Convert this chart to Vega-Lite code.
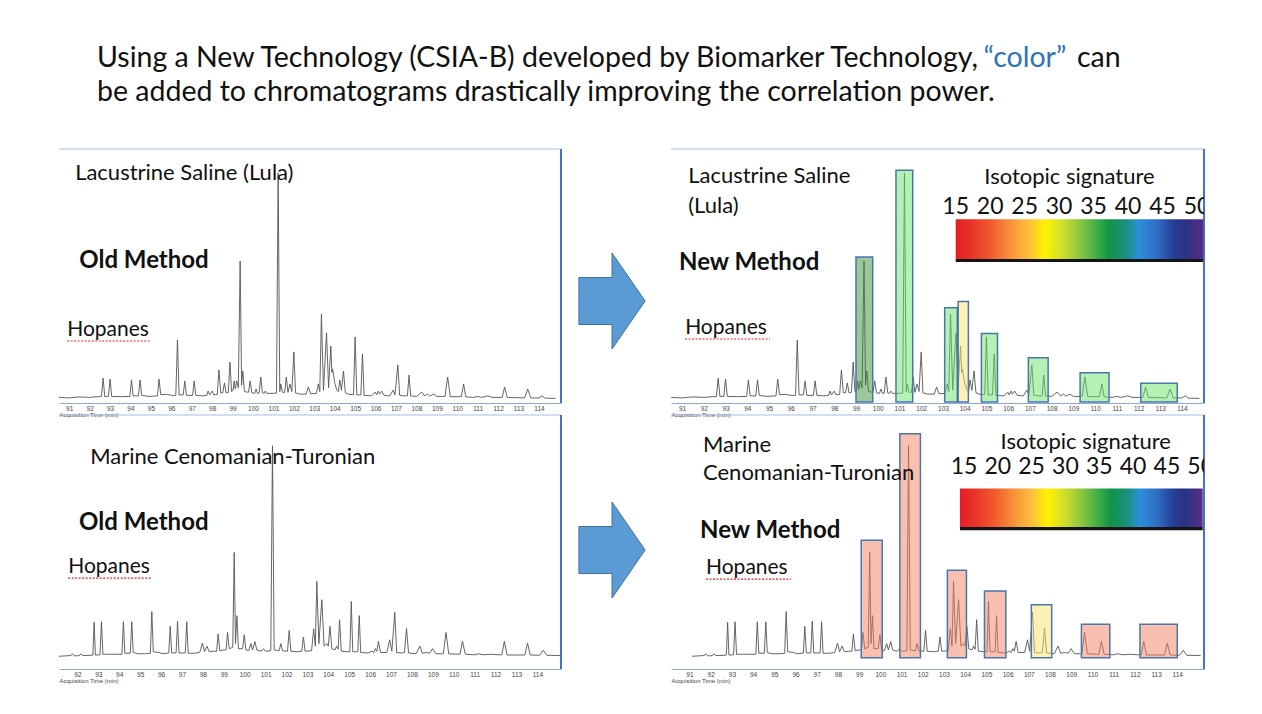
{
  "$schema": "https://vega.github.io/schema/vega-lite/v6.json",
  "padding": {"top": 10, "left": 57, "right": 0, "bottom": 0},
  "background": "white",
  "config": {"font": "Lato", "view": {"stroke": null}, "axis": {"grid": false, "labelOverlap": false, "labelSeparation": 0}},
  "datasets": {
    "lula": [
      {"t":90.5,"v":2.2},{"t":91.0,"v":2.0},{"t":91.5,"v":2.4},{"t":92.0,"v":2.2},{"t":92.4,"v":2.5},
      {"t":92.58,"v":2.5},{"t":92.66,"v":9.8},{"t":92.74,"v":2.6},
      {"t":92.92,"v":2.6},{"t":93.0,"v":9.4},{"t":93.08,"v":2.6},
      {"t":93.5,"v":2.5},
      {"t":93.97,"v":2.6},{"t":94.05,"v":9.1},{"t":94.13,"v":2.8},
      {"t":94.39,"v":2.8},{"t":94.47,"v":9.1},{"t":94.55,"v":3.0},
      {"t":94.9,"v":2.6},
      {"t":95.32,"v":2.8},{"t":95.4,"v":9.4},{"t":95.48,"v":3.3},
      {"t":95.8,"v":3.4},{"t":96.0,"v":3.0},
      {"t":96.22,"v":3.0},{"t":96.3,"v":24.8},{"t":96.38,"v":3.2},
      {"t":96.58,"v":3.2},{"t":96.66,"v":8.7},{"t":96.74,"v":3.0},
      {"t":97.04,"v":3.0},{"t":97.12,"v":8.7},{"t":97.2,"v":3.0},
      {"t":97.5,"v":2.8},
      {"t":97.74,"v":3.0},{"t":97.8,"v":4.7},{"t":97.88,"v":3.2},{"t":98.0,"v":4.7},{"t":98.08,"v":3.2},
      {"t":98.25,"v":3.4},{"t":98.33,"v":13},{"t":98.42,"v":4.0},
      {"t":98.52,"v":4.0},{"t":98.6,"v":7.9},{"t":98.68,"v":4.0},
      {"t":98.79,"v":4.2},{"t":98.87,"v":16.1},{"t":98.95,"v":4.5},
      {"t":99.02,"v":5.0},{"t":99.08,"v":8.7},{"t":99.13,"v":5.5},{"t":99.2,"v":8.7},{"t":99.28,"v":6},
      {"t":99.37,"v":55.9},{"t":99.44,"v":7},{"t":99.5,"v":12.6},{"t":99.58,"v":4.5},
      {"t":99.78,"v":4.2},{"t":99.86,"v":8.7},{"t":99.94,"v":4.0},
      {"t":100.08,"v":3.8},{"t":100.15,"v":5.5},{"t":100.22,"v":3.8},
      {"t":100.3,"v":3.9},{"t":100.38,"v":10.2},{"t":100.46,"v":4.0},
      {"t":100.55,"v":3.8},{"t":100.6,"v":4.7},{"t":100.68,"v":3.8},
      {"t":101.0,"v":3.8},{"t":101.15,"v":3.9},{"t":101.23,"v":90.6},{"t":101.31,"v":4.5},{"t":101.36,"v":7.5},{"t":101.44,"v":4.2},
      {"t":101.55,"v":4.2},{"t":101.63,"v":10.2},{"t":101.71,"v":4.2},{"t":101.81,"v":7.5},{"t":101.9,"v":4.5},
      {"t":102.0,"v":20.1},{"t":102.08,"v":4.0},
      {"t":102.3,"v":3.5},{"t":102.6,"v":3.5},{"t":102.71,"v":6.3},{"t":102.82,"v":3.6},
      {"t":103.1,"v":3.8},{"t":103.2,"v":7.5},{"t":103.27,"v":4.5},
      {"t":103.35,"v":35},{"t":103.45,"v":5},{"t":103.6,"v":27.6},{"t":103.7,"v":6},{"t":103.81,"v":22.4},{"t":103.86,"v":12},{"t":103.9,"v":13.4},{"t":104.0,"v":8},{"t":104.1,"v":5},
      {"t":104.18,"v":4.5},{"t":104.25,"v":9.1},{"t":104.33,"v":5},{"t":104.43,"v":12.6},{"t":104.52,"v":4.0},
      {"t":104.7,"v":3.4},{"t":104.92,"v":3.3},{"t":105.0,"v":26},{"t":105.08,"v":3.2},
      {"t":105.28,"v":3.2},{"t":105.36,"v":19.3},{"t":105.44,"v":3.0},
      {"t":105.8,"v":2.8},{"t":105.98,"v":4.3},{"t":106.05,"v":3.2},{"t":106.13,"v":4.7},{"t":106.2,"v":3.5},{"t":106.3,"v":4.7},{"t":106.42,"v":3.0},
      {"t":106.7,"v":2.8},{"t":106.86,"v":5.1},{"t":106.95,"v":3.2},{"t":107.09,"v":15},{"t":107.18,"v":3.0},
      {"t":107.4,"v":2.8},{"t":107.56,"v":2.8},{"t":107.64,"v":11},{"t":107.72,"v":2.8},
      {"t":108.0,"v":2.6},{"t":108.26,"v":4.3},{"t":108.4,"v":2.8},{"t":108.55,"v":3.5},{"t":108.65,"v":2.7},{"t":108.85,"v":3.5},{"t":109.0,"v":2.6},
      {"t":109.4,"v":2.6},{"t":109.53,"v":10.2},{"t":109.66,"v":2.5},
      {"t":110.2,"v":2.5},{"t":110.31,"v":7.5},{"t":110.42,"v":2.4},
      {"t":110.8,"v":2.2},{"t":111.0,"v":2.6},{"t":111.2,"v":2.2},{"t":111.5,"v":2.8},{"t":111.7,"v":2.2},
      {"t":112.2,"v":2.2},{"t":112.32,"v":6.3},{"t":112.45,"v":2.2},
      {"t":113.3,"v":2.0},{"t":113.45,"v":5.5},{"t":113.6,"v":2.0},
      {"t":114.0,"v":2.0},{"t":114.15,"v":2.8},{"t":114.3,"v":1.9},{"t":114.8,"v":1.8}
    ],
    "marine": [
      {"t":91.12,"v":5.0},{"t":91.5,"v":5.2},{"t":91.7,"v":5.3},{"t":91.76,"v":6.0},{"t":91.85,"v":5.2},{"t":92.0,"v":5.2},{"t":92.1,"v":5.3},{"t":92.16,"v":6.0},{"t":92.25,"v":5.3},{"t":92.7,"v":5.4},
      {"t":92.74,"v":5.5},{"t":92.8,"v":18.4},{"t":92.86,"v":5.5},
      {"t":93.08,"v":5.6},{"t":93.15,"v":18.6},{"t":93.22,"v":5.8},
      {"t":93.5,"v":5.8},{"t":93.8,"v":5.8},
      {"t":94.13,"v":5.8},{"t":94.2,"v":18.6},{"t":94.27,"v":6.2},
      {"t":94.53,"v":6.2},{"t":94.6,"v":18.6},{"t":94.67,"v":6.5},
      {"t":94.9,"v":6.0},{"t":95.2,"v":6.0},
      {"t":95.49,"v":6.2},{"t":95.56,"v":22.6},{"t":95.63,"v":6.8},
      {"t":95.9,"v":6.5},{"t":96.1,"v":6.0},
      {"t":96.37,"v":6.3},{"t":96.44,"v":16.8},{"t":96.51,"v":6.3},
      {"t":96.72,"v":6.3},{"t":96.79,"v":18.8},{"t":96.86,"v":6.3},
      {"t":97.16,"v":6.3},{"t":97.23,"v":18.6},{"t":97.3,"v":6.2},
      {"t":97.6,"v":6.2},{"t":97.85,"v":6.5},{"t":97.98,"v":10.2},{"t":98.08,"v":6.8},{"t":98.2,"v":9},{"t":98.3,"v":6.8},
      {"t":98.5,"v":7},{"t":98.66,"v":7},{"t":98.73,"v":13.8},{"t":98.81,"v":7.2},
      {"t":99.0,"v":7.5},{"t":99.11,"v":7.5},{"t":99.18,"v":14.4},{"t":99.26,"v":8},
      {"t":99.43,"v":8.5},{"t":99.5,"v":45.9},{"t":99.56,"v":10},{"t":99.63,"v":21},{"t":99.7,"v":8},
      {"t":99.9,"v":8},{"t":99.98,"v":13.5},{"t":100.06,"v":7.5},
      {"t":100.2,"v":7.3},{"t":100.3,"v":10},{"t":100.38,"v":7.5},{"t":100.49,"v":10.8},{"t":100.58,"v":7.5},
      {"t":100.8,"v":7.0},{"t":100.9,"v":8},{"t":101.0,"v":7.0},
      {"t":101.25,"v":7.2},{"t":101.33,"v":87.9},{"t":101.41,"v":7.5},
      {"t":101.65,"v":7.2},{"t":101.73,"v":10},{"t":101.81,"v":7.2},
      {"t":102.05,"v":7},{"t":102.13,"v":15.2},{"t":102.21,"v":7},
      {"t":102.5,"v":6.8},{"t":102.73,"v":7},{"t":102.81,"v":12.6},{"t":102.89,"v":7},
      {"t":103.2,"v":7.2},{"t":103.3,"v":15.8},{"t":103.38,"v":9},{"t":103.45,"v":34.5},{"t":103.55,"v":10},{"t":103.69,"v":27.3},{"t":103.8,"v":9},{"t":103.93,"v":10},{"t":104.0,"v":9},{"t":104.08,"v":16.8},{"t":104.17,"v":8},
      {"t":104.32,"v":7.5},{"t":104.4,"v":9},{"t":104.47,"v":7.8},{"t":104.54,"v":19.4},{"t":104.62,"v":7},
      {"t":104.9,"v":6.8},{"t":105.03,"v":6.8},{"t":105.1,"v":26.6},{"t":105.17,"v":6.8},
      {"t":105.41,"v":6.8},{"t":105.48,"v":21},{"t":105.55,"v":6.5},
      {"t":105.9,"v":6.3},{"t":106.09,"v":7},{"t":106.17,"v":6.5},{"t":106.25,"v":8},{"t":106.32,"v":7},{"t":106.4,"v":10.9},{"t":106.5,"v":6.5},
      {"t":106.8,"v":6.5},{"t":106.94,"v":11.5},{"t":107.04,"v":7},{"t":107.18,"v":22.3},{"t":107.27,"v":6.5},
      {"t":107.5,"v":6.3},{"t":107.64,"v":6.5},{"t":107.74,"v":16},{"t":107.84,"v":6.3},
      {"t":108.2,"v":6.0},{"t":108.38,"v":9},{"t":108.5,"v":6.2},{"t":108.72,"v":6.5},{"t":108.85,"v":6.2},{"t":108.99,"v":8},{"t":109.15,"v":6},
      {"t":109.5,"v":6.0},{"t":109.63,"v":14.4},{"t":109.76,"v":6},
      {"t":110.3,"v":5.8},{"t":110.42,"v":11},{"t":110.55,"v":5.8},
      {"t":111.0,"v":5.6},{"t":111.2,"v":6},{"t":111.4,"v":5.6},{"t":111.8,"v":5.8},{"t":112.1,"v":5.6},
      {"t":112.3,"v":5.6},{"t":112.42,"v":10.9},{"t":112.55,"v":5.5},
      {"t":113.4,"v":5.5},{"t":113.53,"v":10.2},{"t":113.66,"v":5.5},
      {"t":114.1,"v":5.4},{"t":114.28,"v":7.4},{"t":114.45,"v":5.4},{"t":115.1,"v":5.3}
    ],
    "lulaBoxes": [
      {"t0":99.0,"t1":99.77,"top":57.5,"d13C":37},
      {"t0":100.84,"t1":101.61,"top":91.6,"d13C":33},
      {"t0":103.08,"t1":103.66,"top":37.5,"d13C":33},
      {"t0":103.7,"t1":104.17,"top":40.0,"d13C":28},
      {"t0":104.77,"t1":105.51,"top":27.4,"d13C":33},
      {"t0":106.93,"t1":107.84,"top":17.8,"d13C":33},
      {"t0":109.31,"t1":110.64,"top":11.9,"d13C":33},
      {"t0":112.1,"t1":113.78,"top":7.8,"d13C":33}
    ],
    "marineBoxes": [
      {"t0":99.1,"t1":100.09,"top":50.7,"d13C":18},
      {"t0":100.92,"t1":101.89,"top":92.6,"d13C":18},
      {"t0":103.16,"t1":104.06,"top":38.9,"d13C":18},
      {"t0":104.91,"t1":105.92,"top":30.7,"d13C":18},
      {"t0":107.12,"t1":108.08,"top":25.3,"d13C":28},
      {"t0":109.48,"t1":110.82,"top":17.6,"d13C":18},
      {"t0":112.24,"t1":114.0,"top":17.6,"d13C":18}
    ],
    "isoTicks": [{"d13C":15},{"d13C":20},{"d13C":25},{"d13C":30},{"d13C":35},{"d13C":40},{"d13C":45},{"d13C":50}],
    "arrows": [{"sample":"Lacustrine Saline (Lula)"},{"sample":"Marine Cenomanian-Turonian"}]
  },
  "spacing": 0,
  "vconcat": [
    {
      "width": 1145, "height": 138,
      "layer": [
        {"data": {"values": [{}]},
         "mark": {"type": "text", "text": "Using a New Technology (CSIA-B) developed by Biomarker Technology,", "fontSize": 28.5, "align": "left", "baseline": "alphabetic", "color": "#111111"},
         "encoding": {"x": {"datum": 3.32, "scale": {"domain": [0, 100], "nice": false, "zero": false}, "axis": null},
                      "y": {"datum": 58.7, "scale": {"domain": [0, 100], "nice": false, "zero": false}, "axis": null}}},
        {"data": {"values": [{}]},
         "mark": {"type": "text", "text": "“color”", "fontSize": 28.5, "align": "left", "baseline": "alphabetic", "color": "#2e75b6"},
         "encoding": {"x": {"datum": 80.75, "axis": null}, "y": {"datum": 58.7, "axis": null}}},
        {"data": {"values": [{}]},
         "mark": {"type": "text", "text": "can", "fontSize": 28.5, "align": "left", "baseline": "alphabetic", "color": "#111111"},
         "encoding": {"x": {"datum": 88.9, "axis": null}, "y": {"datum": 58.7, "axis": null}}},
        {"data": {"values": [{}]},
         "mark": {"type": "text", "text": "be added to chromatograms drastically improving the correlation power.", "fontSize": 28.5, "align": "left", "baseline": "alphabetic", "color": "#111111"},
         "encoding": {"x": {"datum": 3.32, "axis": null}, "y": {"datum": 34.1, "axis": null}}}
      ]
    },
    {
      "spacing": 0,
      "hconcat": [
        {
          "bounds": "flush",
          "spacing": 12,
          "vconcat": [
            {
              "width": 502, "height": 254,
              "layer": [
                {"data": {"name": "lula"},
                 "mark": {"type": "line", "color": "#555555", "strokeWidth": 0.9},
                 "encoding": {
                   "x": {"field": "t", "type": "quantitative", "scale": {"domain": [90.5, 115.08], "nice": false, "zero": false},
                         "axis": {"values": [91,92,93,94,95,96,97,98,99,100,101,102,103,104,105,106,107,108,109,110,111,112,113,114], "tickCount": 40, "format": "d", "ticks": false, "labelFontSize": 6.5, "labelColor": "#444444", "labelPadding": 2, "labelFont": "Liberation Sans", "labelOverlap": false, "labelSeparation": 0, "labelFlush": false, "domainColor": "#8eaadb", "domainWidth": 1, "title": "Acquisition Time (min)", "titleFontSize": 6, "titleFont": "Liberation Sans", "titleFontWeight": "normal", "titleColor": "#444444", "titleAnchor": "start", "titlePadding": 0}},
                   "y": {"field": "v", "type": "quantitative", "scale": {"domain": [0, 100], "nice": false, "zero": false}, "axis": null}}},
                {"data": {"values": [{}]}, "mark": {"type": "rule", "color": "#a9bde3", "strokeWidth": 1}, "encoding": {"y": {"datum": 100, "axis": null}}},
                {"data": {"values": [{}]}, "mark": {"type": "rule", "color": "#4472c4", "strokeWidth": 2}, "encoding": {"x": {"datum": 115.08}}},
                {"data": {"values": [{}]}, "mark": {"type": "text", "text": "Lacustrine Saline (Lula)", "fontSize": 22, "align": "left", "baseline": "alphabetic", "color": "#111111"},
                 "encoding": {"x": {"datum": 91.29}, "y": {"datum": 87.8, "axis": null}}},
                {"data": {"values": [{}]}, "mark": {"type": "text", "text": "Old Method", "fontSize": 24, "fontWeight": "bold", "align": "left", "baseline": "alphabetic", "color": "#111111"},
                 "encoding": {"x": {"datum": 91.49}, "y": {"datum": 53.1, "axis": null}}},
                {"data": {"values": [{}]}, "mark": {"type": "text", "text": "Hopanes", "fontSize": 21, "align": "left", "baseline": "alphabetic", "color": "#111111"},
                 "encoding": {"x": {"datum": 90.9}, "y": {"datum": 26.4, "axis": null}}},
                {"data": {"values": [{}]}, "mark": {"type": "rule", "color": "#e02020", "strokeWidth": 1.2, "strokeDash": [2, 1.5]},
                 "encoding": {"x": {"datum": 90.9}, "x2": {"datum": 95.0}, "y": {"datum": 24.4, "axis": null}}}
              ]
            },
            {
              "width": 502, "height": 254,
              "layer": [
                {"data": {"name": "marine"},
                 "mark": {"type": "line", "color": "#555555", "strokeWidth": 0.9},
                 "encoding": {
                   "x": {"field": "t", "type": "quantitative", "scale": {"domain": [91.12, 115.13], "nice": false, "zero": false},
                         "axis": {"values": [92,93,94,95,96,97,98,99,100,101,102,103,104,105,106,107,108,109,110,111,112,113,114], "tickCount": 40, "format": "d", "ticks": false, "labelFontSize": 6.5, "labelColor": "#444444", "labelPadding": 2, "labelFont": "Liberation Sans", "labelOverlap": false, "labelSeparation": 0, "labelFlush": false, "domainColor": "#8eaadb", "domainWidth": 1, "title": "Acquisition Time (min)", "titleFontSize": 6, "titleFont": "Liberation Sans", "titleFontWeight": "normal", "titleColor": "#444444", "titleAnchor": "start", "titlePadding": 0}},
                   "y": {"field": "v", "type": "quantitative", "scale": {"domain": [0, 100], "nice": false, "zero": false}, "axis": null}}},
                {"data": {"values": [{}]}, "mark": {"type": "rule", "color": "#a9bde3", "strokeWidth": 1}, "encoding": {"y": {"datum": 100, "axis": null}}},
                {"data": {"values": [{}]}, "mark": {"type": "rule", "color": "#4472c4", "strokeWidth": 2}, "encoding": {"x": {"datum": 115.13}}},
                {"data": {"values": [{}]}, "mark": {"type": "text", "text": "Marine Cenomanian-Turonian", "fontSize": 22, "align": "left", "baseline": "alphabetic", "color": "#111111"},
                 "encoding": {"x": {"datum": 92.61}, "y": {"datum": 80.8, "axis": null}}},
                {"data": {"values": [{}]}, "mark": {"type": "text", "text": "Old Method", "fontSize": 24, "fontWeight": "bold", "align": "left", "baseline": "alphabetic", "color": "#111111"},
                 "encoding": {"x": {"datum": 92.08}, "y": {"datum": 54.8, "axis": null}}},
                {"data": {"values": [{}]}, "mark": {"type": "text", "text": "Hopanes", "fontSize": 21, "align": "left", "baseline": "alphabetic", "color": "#111111"},
                 "encoding": {"x": {"datum": 91.56}, "y": {"datum": 37.8, "axis": null}}},
                {"data": {"values": [{}]}, "mark": {"type": "rule", "color": "#e02020", "strokeWidth": 1.2, "strokeDash": [2, 1.5]},
                 "encoding": {"x": {"datum": 91.56}, "x2": {"datum": 95.57}, "y": {"datum": 35.8, "axis": null}}}
              ]
            }
          ]
        },
        {
          "width": 106, "height": 520,
          "data": {"name": "arrows"},
          "mark": {"type": "point", "shape": "M-0.773,-0.49L-0.083,-0.49L-0.083,-1L0.607,0L-0.083,1L-0.083,0.49L-0.773,0.49Z", "size": 9216, "filled": true, "fill": "#5b9bd5", "stroke": "#41719c", "strokeWidth": 1, "opacity": 1},
          "encoding": {"y": {"field": "sample", "type": "nominal", "scale": {"type": "point", "padding": 0.544, "align": 0.561}, "axis": null}}
        },
        {
          "bounds": "flush",
          "spacing": 12,
          "vconcat": [
            {
              "width": 533, "height": 254,
              "resolve": {"scale": {"x": "independent"}},
              "layer": [
                {"layer": [
                  {"data": {"name": "lula"},
                   "mark": {"type": "line", "color": "#555555", "strokeWidth": 0.9},
                   "encoding": {
                     "x": {"field": "t", "type": "quantitative", "scale": {"domain": [90.49, 115.01], "nice": false, "zero": false},
                           "axis": {"values": [91,92,93,94,95,96,97,98,99,100,101,102,103,104,105,106,107,108,109,110,111,112,113,114], "tickCount": 40, "format": "d", "ticks": false, "labelFontSize": 6.5, "labelColor": "#444444", "labelPadding": 2, "labelFont": "Liberation Sans", "labelOverlap": false, "labelSeparation": 0, "labelFlush": false, "domainColor": "#8eaadb", "domainWidth": 1, "title": "Acquisition Time (min)", "titleFontSize": 6, "titleFont": "Liberation Sans", "titleFontWeight": "normal", "titleColor": "#444444", "titleAnchor": "start", "titlePadding": 0}},
                     "y": {"field": "v", "type": "quantitative", "scale": {"domain": [0, 100], "nice": false, "zero": false}, "axis": null}}},
                  {"data": {"values": [{}]}, "mark": {"type": "rule", "color": "#a9bde3", "strokeWidth": 1}, "encoding": {"y": {"datum": 100, "axis": null}}},
                  {"data": {"values": [{}]}, "mark": {"type": "rule", "color": "#4472c4", "strokeWidth": 2}, "encoding": {"x": {"datum": 115.01}}},
                  {"data": {"name": "lulaBoxes"},
                   "mark": {"type": "rect", "fillOpacity": 0.5, "stroke": "#4a76b0", "strokeWidth": 1.5, "strokeOpacity": 1},
                   "encoding": {
                     "x": {"field": "t0", "type": "quantitative"}, "x2": {"field": "t1"},
                     "y": {"field": "top", "type": "quantitative", "axis": null}, "y2": {"datum": 0.4},
                     "color": {"field": "d13C", "type": "quantitative", "scale": {"domain": [18, 28, 33, 37], "range": ["#f4805f", "#ffe36e", "#6be36b", "#3a8f3a"]}, "legend": null}}},
                  {"data": {"values": [{}]}, "mark": {"type": "text", "text": "Lacustrine Saline\n(Lula)", "lineBreak": "\n", "lineHeight": 30, "fontSize": 22, "align": "left", "baseline": "alphabetic", "color": "#111111"},
                   "encoding": {"x": {"datum": 91.28}, "y": {"datum": 86.7, "axis": null}}},
                  {"data": {"values": [{}]}, "mark": {"type": "text", "text": "New Method", "fontSize": 24, "fontWeight": "bold", "align": "left", "baseline": "alphabetic", "color": "#111111"},
                   "encoding": {"x": {"datum": 90.86}, "y": {"datum": 52.4, "axis": null}}},
                  {"data": {"values": [{}]}, "mark": {"type": "text", "text": "Hopanes", "fontSize": 21, "align": "left", "baseline": "alphabetic", "color": "#111111"},
                   "encoding": {"x": {"datum": 91.14}, "y": {"datum": 27.3, "axis": null}}},
                  {"data": {"values": [{}]}, "mark": {"type": "rule", "color": "#e02020", "strokeWidth": 1.2, "strokeDash": [2, 1.5]},
                   "encoding": {"x": {"datum": 91.14}, "x2": {"datum": 95.05}, "y": {"datum": 25.2, "axis": null}}}
                ]},
                {"layer": [
                  {"data": {"values": [{}]},
                   "mark": {"type": "rect", "clip": true, "color": {"gradient": "linear", "x1": 0, "x2": 1, "y1": 0, "y2": 0, "stops": [
                     {"offset": 0, "color": "#e31e26"}, {"offset": 0.06, "color": "#e8322a"}, {"offset": 0.14, "color": "#f05a2c"},
                     {"offset": 0.22, "color": "#f7923a"}, {"offset": 0.3, "color": "#fcc23b"}, {"offset": 0.36, "color": "#fff200"},
                     {"offset": 0.44, "color": "#c8dc32"}, {"offset": 0.5, "color": "#8cc63f"}, {"offset": 0.57, "color": "#3fae49"},
                     {"offset": 0.62, "color": "#109447"}, {"offset": 0.69, "color": "#1a9180"}, {"offset": 0.74, "color": "#2b8fd9"},
                     {"offset": 0.81, "color": "#2f6fc7"}, {"offset": 0.88, "color": "#253d95"}, {"offset": 0.93, "color": "#2a3285"},
                     {"offset": 1, "color": "#5c2d86"}]}},
                   "encoding": {
                     "x": {"datum": 15, "axis": null, "scale": {"domain": [15, 50], "range": [284.7, 526], "nice": false, "zero": false}},
                     "x2": {"datum": 50.9},
                     "y": {"datum": 72.3, "axis": null}, "y2": {"datum": 56.7}}},
                  {"data": {"values": [{}]},
                   "mark": {"type": "rect", "clip": true, "color": "#151515"},
                   "encoding": {"x": {"datum": 15, "axis": null}, "x2": {"datum": 50.9}, "y": {"datum": 56.7, "axis": null}, "y2": {"datum": 55.5}}},
                  {"data": {"name": "isoTicks"},
                   "mark": {"type": "text", "fontSize": 23, "align": "center", "baseline": "alphabetic", "clip": true, "color": "#111111"},
                   "encoding": {"x": {"field": "d13C", "type": "quantitative", "axis": null}, "y": {"datum": 74.3, "axis": null}, "text": {"field": "d13C", "type": "quantitative"}}},
                  {"data": {"values": [{}]},
                   "mark": {"type": "text", "text": "Isotopic signature", "fontSize": 22, "align": "center", "baseline": "alphabetic", "color": "#111111"},
                   "encoding": {"x": {"datum": 31.5, "axis": null}, "y": {"datum": 86.1, "axis": null}}}
                ]}
              ]
            },
            {
              "width": 533, "height": 254,
              "resolve": {"scale": {"x": "independent"}},
              "layer": [
                {"layer": [
                  {"data": {"name": "marine"},
                   "mark": {"type": "line", "color": "#555555", "strokeWidth": 0.9},
                   "encoding": {
                     "x": {"field": "t", "type": "quantitative", "scale": {"domain": [90.13, 115.26], "nice": false, "zero": false},
                           "axis": {"values": [91,92,93,94,95,96,97,98,99,100,101,102,103,104,105,106,107,108,109,110,111,112,113,114], "tickCount": 40, "format": "d", "ticks": false, "labelFontSize": 6.5, "labelColor": "#444444", "labelPadding": 2, "labelFont": "Liberation Sans", "labelOverlap": false, "labelSeparation": 0, "labelFlush": false, "domainColor": "#8eaadb", "domainWidth": 1, "title": "Acquisition Time (min)", "titleFontSize": 6, "titleFont": "Liberation Sans", "titleFontWeight": "normal", "titleColor": "#444444", "titleAnchor": "start", "titlePadding": 0}},
                     "y": {"field": "v", "type": "quantitative", "scale": {"domain": [0, 100], "nice": false, "zero": false}, "axis": null}}},
                  {"data": {"values": [{}]}, "mark": {"type": "rule", "color": "#a9bde3", "strokeWidth": 1}, "encoding": {"y": {"datum": 100, "axis": null}}},
                  {"data": {"values": [{}]}, "mark": {"type": "rule", "color": "#4472c4", "strokeWidth": 2}, "encoding": {"x": {"datum": 115.26}}},
                  {"data": {"name": "marineBoxes"},
                   "mark": {"type": "rect", "fillOpacity": 0.5, "stroke": "#4a76b0", "strokeWidth": 1.5, "strokeOpacity": 1},
                   "encoding": {
                     "x": {"field": "t0", "type": "quantitative"}, "x2": {"field": "t1"},
                     "y": {"field": "top", "type": "quantitative", "axis": null}, "y2": {"datum": 4.4},
                     "color": {"field": "d13C", "type": "quantitative", "scale": {"domain": [18, 28, 33, 37], "range": ["#f4805f", "#ffe36e", "#6be36b", "#3a8f3a"]}, "legend": null}}},
                  {"data": {"values": [{}]}, "mark": {"type": "text", "text": "Marine\nCenomanian-Turonian", "lineBreak": "\n", "lineHeight": 28, "fontSize": 22, "align": "left", "baseline": "alphabetic", "color": "#111111"},
                   "encoding": {"x": {"datum": 91.64}, "y": {"datum": 85.4, "axis": null}}},
                  {"data": {"values": [{}]}, "mark": {"type": "text", "text": "New Method", "fontSize": 24, "fontWeight": "bold", "align": "left", "baseline": "alphabetic", "color": "#111111"},
                   "encoding": {"x": {"datum": 91.5}, "y": {"datum": 51.7, "axis": null}}},
                  {"data": {"values": [{}]}, "mark": {"type": "text", "text": "Hopanes", "fontSize": 21, "align": "left", "baseline": "alphabetic", "color": "#111111"},
                   "encoding": {"x": {"datum": 91.78}, "y": {"datum": 37.3, "axis": null}}},
                  {"data": {"values": [{}]}, "mark": {"type": "rule", "color": "#e02020", "strokeWidth": 1.2, "strokeDash": [2, 1.5]},
                   "encoding": {"x": {"datum": 91.78}, "x2": {"datum": 95.79}, "y": {"datum": 35.4, "axis": null}}}
                ]},
                {"layer": [
                  {"data": {"values": [{}]},
                   "mark": {"type": "rect", "clip": true, "color": {"gradient": "linear", "x1": 0, "x2": 1, "y1": 0, "y2": 0, "stops": [
                     {"offset": 0, "color": "#e31e26"}, {"offset": 0.06, "color": "#e8322a"}, {"offset": 0.14, "color": "#f05a2c"},
                     {"offset": 0.22, "color": "#f7923a"}, {"offset": 0.3, "color": "#fcc23b"}, {"offset": 0.36, "color": "#fff200"},
                     {"offset": 0.44, "color": "#c8dc32"}, {"offset": 0.5, "color": "#8cc63f"}, {"offset": 0.57, "color": "#3fae49"},
                     {"offset": 0.62, "color": "#109447"}, {"offset": 0.69, "color": "#1a9180"}, {"offset": 0.74, "color": "#2b8fd9"},
                     {"offset": 0.81, "color": "#2f6fc7"}, {"offset": 0.88, "color": "#253d95"}, {"offset": 0.93, "color": "#2a3285"},
                     {"offset": 1, "color": "#5c2d86"}]}},
                   "encoding": {
                     "x": {"datum": 14.4, "axis": null, "scale": {"domain": [15, 50], "range": [293, 529.7], "nice": false, "zero": false}},
                     "x2": {"datum": 50.3},
                     "y": {"datum": 71.1, "axis": null}, "y2": {"datum": 55.9}}},
                  {"data": {"values": [{}]},
                   "mark": {"type": "rect", "clip": true, "color": "#151515"},
                   "encoding": {"x": {"datum": 14.4, "axis": null}, "x2": {"datum": 50.3}, "y": {"datum": 55.9, "axis": null}, "y2": {"datum": 54.6}}},
                  {"data": {"name": "isoTicks"},
                   "mark": {"type": "text", "fontSize": 23, "align": "center", "baseline": "alphabetic", "clip": true, "color": "#111111"},
                   "encoding": {"x": {"field": "d13C", "type": "quantitative", "axis": null}, "y": {"datum": 76.7, "axis": null}, "text": {"field": "d13C", "type": "quantitative"}}},
                  {"data": {"values": [{}]},
                   "mark": {"type": "text", "text": "Isotopic signature", "fontSize": 22, "align": "center", "baseline": "alphabetic", "color": "#111111"},
                   "encoding": {"x": {"datum": 33.0, "axis": null}, "y": {"datum": 86.5, "axis": null}}}
                ]}
              ]
            }
          ]
        }
      ]
    }
  ]
}
